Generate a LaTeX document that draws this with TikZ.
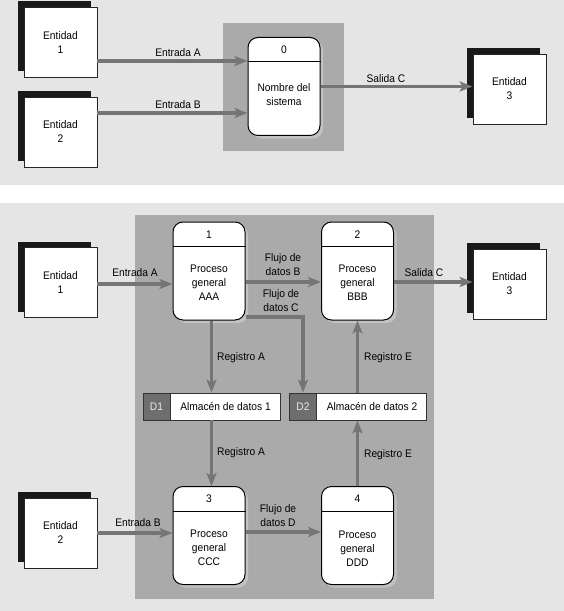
\documentclass[tikz,border=0pt]{standalone}
\usepackage{fontspec}
\setmainfont{Liberation Sans}[FakeStretch=0.93]
\usetikzlibrary{arrows.meta,shadows}
\definecolor{panel}{HTML}{E5E5E5}
\definecolor{sys}{HTML}{AAAAAA}
\definecolor{flowc}{HTML}{757575}
\definecolor{pshadow}{HTML}{C2C2C2}
\definecolor{idc}{HTML}{6E6E6E}
\begin{document}
\begin{tikzpicture}[x=1bp,y=-1bp,
  every node/.style={font=\fontsize{11bp}{14bp}\selectfont, inner sep=0pt},
  entity/.style={draw=black!85, line width=0.8bp, fill=white, minimum width=73bp, minimum height=70bp, align=center,
    drop shadow={shadow xshift=-6bp, shadow yshift=6bp, fill=black!90, opacity=1}},
  proc/.style={draw=black, line width=1bp, fill=white, rounded corners=10bp, minimum width=72bp, minimum height=98bp,
    drop shadow={shadow xshift=3bp, shadow yshift=-3bp, fill=pshadow, opacity=1}},
  ptext/.style={align=center},
  lbl/.style={align=center},
  flow/.style={draw=flowc, line width=3.5bp, -{Stealth[length=13bp,width=10bp,inset=3bp]}},
  store/.style={draw=black!80, line width=0.8bp, fill=white, minimum width=137bp, minimum height=27bp},
  storeid/.style={draw=black!80, line width=0.8bp, fill=idc, text=white!92!black, minimum width=27bp, minimum height=27bp, anchor=west},
  sep/.style={draw=black, line width=1bp}
]
\useasboundingbox (0,0) rectangle (564,611);
\fill[white] (0,0) rectangle (564,611);
\fill[panel] (0,0) rectangle (564,185);
\fill[panel] (0,203) rectangle (564,611);
\fill[sys] (223,23) rectangle (344,151);
\fill[sys] (135,215) rectangle (434,599);

% ---------- top diagram ----------
\node[entity] (e1) at (60.5,42.5) {Entidad\\1};
\node[entity] (e2) at (60.5,132) {Entidad\\2};
\node[entity] (e3) at (509.5,89) {Entidad\\3};

\node[proc] (p0) at (284,86.5) {};
\draw[sep] ([yshift=-25bp]p0.north west) -- ([yshift=-25bp]p0.north east);
\node[ptext] (p0n) at ([yshift=-13bp]p0.north) {0};
\node[ptext] (p0t) at ([yshift=-58bp]p0.north) {Nombre del\\sistema};

\draw[flow] ([yshift=-18.5bp]e1.east) coordinate (s1) -- (s1 -| p0.west);
\draw[flow] ([yshift=19bp]e2.east) coordinate (s2) -- (s2 -| p0.west);
\draw[flow] (p0.east) -- (p0.east -| e3.west);
\node[lbl] (l1) at (178,53) {Entrada A};
\node[lbl] (l2) at (178,105) {Entrada B};
\node[lbl] (l3) at (386,79) {Salida C};

% ---------- bottom diagram ----------
\node[entity] (f1) at (60.5,282.5) {Entidad\\1};
\node[entity] (f3) at (509.5,284) {Entidad\\3};
\node[entity] (f2) at (60.5,533) {Entidad\\2};

\node[proc] (p1) at (209,271) {};
\node[proc] (p2) at (357.5,271) {};
\node[proc] (p3) at (209,535.5) {};
\node[proc] (p4) at (357.5,535.5) {};
\foreach \p in {p1,p2,p3,p4}{
  \draw[sep] ([yshift=-25bp]\p.north west) -- ([yshift=-25bp]\p.north east);
}
\node[ptext] (p1n) at ([yshift=-13bp]p1.north) {1};
\node[ptext] (p2n) at ([yshift=-13bp]p2.north) {2};
\node[ptext] (p3n) at ([yshift=-13bp]p3.north) {3};
\node[ptext] (p4n) at ([yshift=-13bp]p4.north) {4};
\node[ptext] (p1t) at ([yshift=-61.5bp]p1.north) {Proceso\\general\\AAA};
\node[ptext] (p2t) at ([yshift=-61.5bp]p2.north) {Proceso\\general\\BBB};
\node[ptext] (p3t) at ([yshift=-61.5bp]p3.north) {Proceso\\general\\CCC};
\node[ptext] (p4t) at ([yshift=-62.5bp]p4.north) {Proceso\\general\\DDD};

\node[store] (d1) at (211.5,406.5) {};
\node[storeid] (d1id) at (d1.west) {D1};
\node (d1t) at (225.5,406.5) {Almacén de datos 1};
\node[store] (d2) at (358,406.5) {};
\node[storeid] (d2id) at (d2.west) {D2};
\node (d2t) at (372,406.5) {Almacén de datos 2};

\draw[flow] ([yshift=-1.5bp]f1.east) coordinate (t1) -- (t1 -| p1.west);
\draw[flow] ([yshift=-11bp]p1.east) coordinate (t2) -- (t2 -| p2.west);
\draw[flow] ([yshift=-11bp]p2.east) coordinate (t3) -- (t3 -| f3.west);
\draw[flow] ([yshift=3.5bp]p1.south east) -| (d2id.north);
\draw[flow] (p1.south -| d1.north) -- (d1.north);
\draw[flow] (d2.north -| p2.south) -- (p2.south);
\draw[flow] (d1.south) -- (d1.south |- p3.north);
\draw[flow] (p4.north) -- (p4.north |- d2.south);
\draw[flow] (f2.east) -- (f2.east -| p3.west);
\draw[flow] ([yshift=3.5bp]p3.east) coordinate (t4) -- (t4 -| p4.west);

\node[lbl] (m1) at (135,273) {Entrada A};
\node[lbl] (m2) at (283,264.5) {Flujo de\\datos B};
\node[lbl] (m3) at (281,301) {Flujo de\\datos C};
\node[lbl] (m4) at (424,273) {Salida C};
\node[lbl] (m5) at (241,358) {Registro A};
\node[lbl] (m6) at (388,358) {Registro E};
\node[lbl] (m7) at (241,453) {Registro A};
\node[lbl] (m8) at (388,455) {Registro E};
\node[lbl] (m9) at (138,523) {Entrada B};
\node[lbl] (m10) at (278,516) {Flujo de\\datos D};
\end{tikzpicture}
\end{document}
